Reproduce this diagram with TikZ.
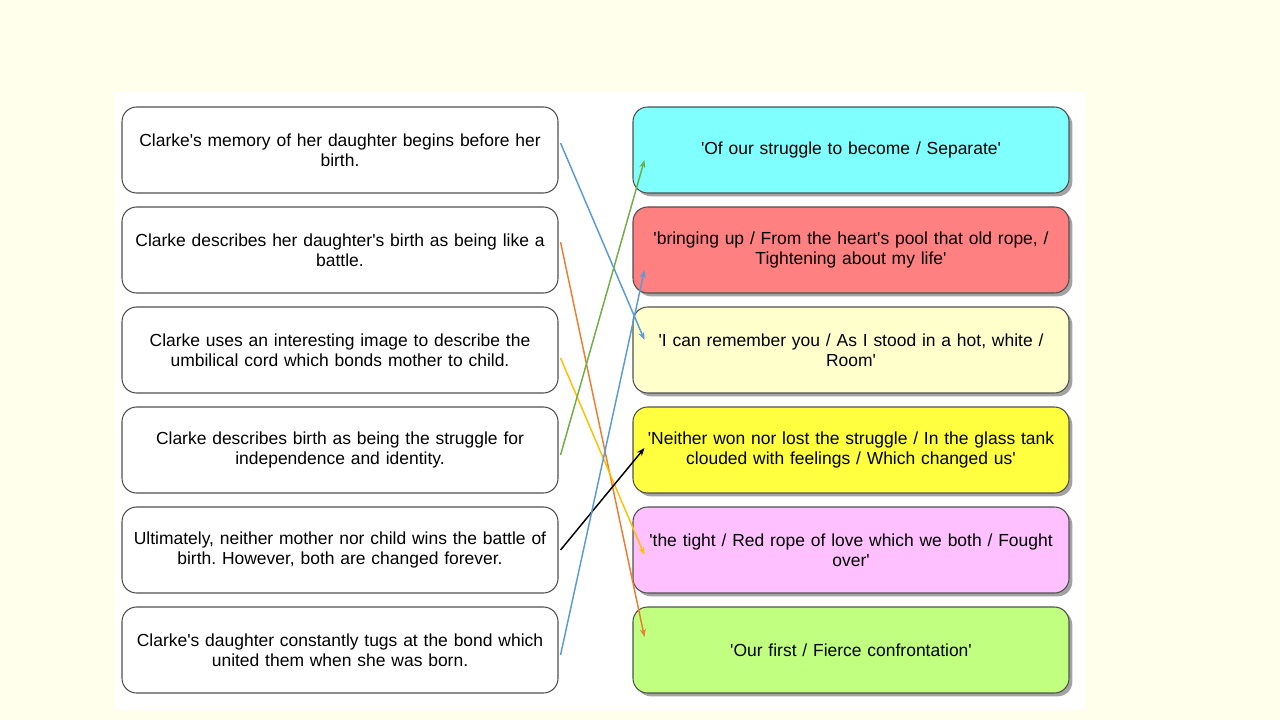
\documentclass[tikz,border=0pt]{standalone}
\usepackage{fontspec}
\setmainfont{Liberation Sans}[Ligatures=TeXOff]
\usetikzlibrary{shadows,arrows.meta,calc}
\definecolor{bgc}{RGB}{255,255,235}
\definecolor{cyanbox}{RGB}{128,255,255}
\definecolor{redbox}{RGB}{255,128,128}
\definecolor{paleybox}{RGB}{255,255,204}
\definecolor{yelbox}{RGB}{255,255,64}
\definecolor{pinkbox}{RGB}{255,192,255}
\definecolor{greenbox}{RGB}{192,255,128}
\definecolor{lblue}{RGB}{91,155,213}
\definecolor{lorange}{RGB}{237,125,49}
\definecolor{lgold}{RGB}{255,192,0}
\definecolor{lgreen}{RGB}{112,173,71}
\definecolor{edgec}{RGB}{80,80,80}
\tikzset{
  base/.style={draw=edgec, line width=0.8pt, rounded corners=11pt,
    minimum width=327pt, minimum height=64.5pt, text width=320pt, align=center,
    font=\fontsize{13.1}{15}\selectfont\frenchspacing, inner sep=0pt},
  leftbox/.style={base, fill=white},
  rightbox/.style={base, drop shadow={shadow xshift=2.5pt, shadow yshift=-2.5pt, fill=black!45, opacity=0.8}},
  link/.style={line width=1.1pt, -{Stealth[length=6pt,width=4.5pt]}}
}
\begin{document}
\begin{tikzpicture}[x=0.75pt,y=-0.75pt]
\useasboundingbox (0,0) rectangle (1280,720);
\fill[bgc] (0,0) rectangle (1280,720);
\fill[white] (115,92) rectangle (1085,710);
\node[leftbox] (l1) at (340,150) {Clarke's memory of her daughter begins before her\\ birth.};
\node[leftbox] (l2) at (340,250) {Clarke describes her daughter's birth as being like a\\ battle.};
\node[leftbox] (l3) at (340,350) {Clarke uses an interesting image to describe the\\ umbilical cord which bonds mother to child.};
\node[leftbox] (l4) at (340,450) {Clarke describes birth as being the struggle for\\ independence and identity.};
\node[leftbox] (l5) at (340,550) {Ultimately, neither mother nor child wins the battle of\\ birth. However, both are changed forever.};
\node[leftbox] (l6) at (340,650) {Clarke's daughter constantly tugs at the bond which\\ united them when she was born.};
\node[rightbox, fill=cyanbox] (r1) at (851,150) {'Of our struggle to become / Separate'};
\node[rightbox, fill=redbox] (r2) at (851,250) {'bringing up / From the heart's pool that old rope, /\\ Tightening about my life'};
\node[rightbox, fill=paleybox] (r3) at (851,350) {'I can remember you / As I stood in a hot, white /\\ Room'};
\node[rightbox, fill=yelbox] (r4) at (851,450) {'Neither won nor lost the struggle / In the glass tank\\ clouded with feelings / Which changed us'};
\node[rightbox, fill=pinkbox] (r5) at (851,550) {'the tight / Red rope of love which we both / Fought\\ over'};
\node[rightbox, fill=greenbox] (r6) at (851,650) {'Our first / Fierce confrontation'};
\draw[link, lblue] ($(l1.east)+(2,-7)$) -- ($(r3.west)+(12,-10)$);
\draw[link, lorange] ($(l2.east)+(2,-8)$) -- ($(r6.west)+(12,-13)$);
\draw[link, lgold] ($(l3.east)+(2,8)$) -- ($(r5.west)+(12,5)$);
\draw[link, lgreen] ($(l4.east)+(2,5)$) -- ($(r1.west)+(12,10)$);
\draw[link, black] ($(l5.east)+(2,0)$) -- ($(r4.west)+(12,-2)$);
\draw[link, lblue] ($(l6.east)+(2,5)$) -- ($(r2.west)+(12,20)$);
\end{tikzpicture}
\end{document}
